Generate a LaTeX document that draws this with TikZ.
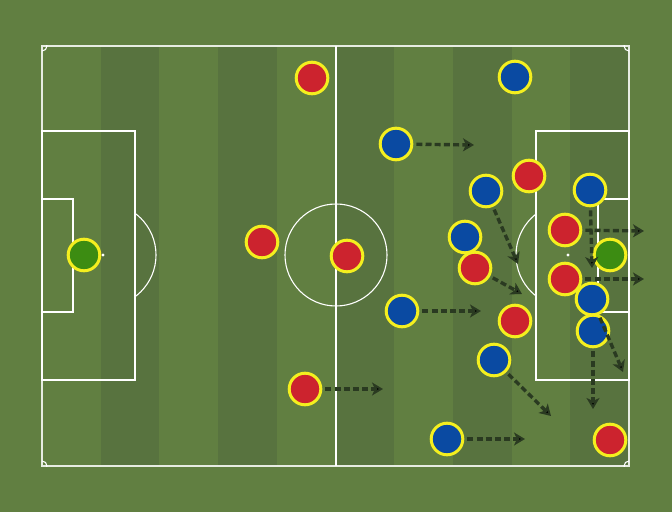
\documentclass[tikz,border=0pt]{standalone}
\usepackage{tikz}
\usetikzlibrary{positioning,arrows.meta}

\definecolor{grass}{HTML}{617F41}
\definecolor{darkgrass}{HTML}{58733F}
\definecolor{shirtred}{HTML}{CC232E}
\definecolor{shirtblue}{HTML}{0A4AA2}
\definecolor{shirtgreen}{HTML}{3C8C12}
\definecolor{trim}{HTML}{F4EF1F}
\definecolor{runline}{HTML}{2A3A21}

\begin{document}
\begin{tikzpicture}[x=0.5pt,y=-0.5pt,
  chalk/.style={draw=white,line width=0.55pt},
  player/.style={circle,draw=trim,line width=1.5pt,minimum size=15.8pt,inner sep=0pt},
  red node/.style={player,fill=shirtred},
  blue node/.style={player,fill=shirtblue},
  keeper node/.style={player,fill=shirtgreen},
  run/.style={draw=runline,line width=1.7pt,dash pattern=on 3pt off 1.6pt,
    shorten <=1.5pt,-{Stealth[length=5.5pt,width=6.5pt,inset=1.5pt]}}]

  % grass and stripes
  \fill[grass] (0,0) rectangle (672,512);
  \foreach \i in {1,3,5,7,9}
    \fill[darkgrass] ({42+\i*58.7},46) rectangle ({42+(\i+1)*58.7},466);

  % pitch markings
  \draw[chalk,draw=white!85!grass,line width=0.75pt] (42,46) rectangle (629,466);
  \draw[chalk] (336,46) -- (336,466);
  \draw[chalk] (336,255) circle[radius=25.5pt];
  \draw[chalk] (42,131) rectangle (135,380);
  \draw[chalk] (42,199) rectangle (73,312);
  \draw[chalk] (536,131) rectangle (629,380);
  \draw[chalk] (598,199) rectangle (629,312);
  \begin{scope}
    \clip (135,46) rectangle (536,466);
    \draw[chalk] (104,255) circle[radius=26pt];
    \draw[chalk] (568,255) circle[radius=26pt];
  \end{scope}
  \begin{scope}
    \clip (42,46) rectangle (629,466);
    \foreach \cx/\cy in {42/46,629/46,42/466,629/466}
      \draw[chalk] (\cx,\cy) circle[radius=2.5pt];
  \end{scope}
  \fill[white] (103,255) circle[radius=0.8pt];
  \fill[white] (568,255) circle[radius=0.8pt];

  % players
  \node[keeper node] (g1) at (84,255) {};
  \node[keeper node] (g2) at (610,255) {};

  \node[red node] (r1) at (312,78) {};
  \node[red node] (r2) at (262,242) {};
  \node[red node] (r3) at (347,256) {};
  \node[red node] (r4) at (305,389) {};
  \node[red node] (r5) at (529,176) {};
  \node[red node] (r6) at (565,230) {};
  \node[red node] (r7) at (475,268) {};
  \node[red node] (r8) at (565,279) {};
  \node[red node] (r9) at (515,321) {};
  \node[red node] (r10) at (610,440) {};

  \node[blue node] (b1) at (515,77) {};
  \node[blue node] (b2) at (396,144) {};
  \node[blue node] (b3) at (486,191) {};
  \node[blue node] (b4) at (590,190) {};
  \node[blue node] (b5) at (465,237) {};
  \node[blue node] (b6) at (402,311) {};
  \node[blue node] (b7) at (592,299) {};
  \node[blue node] (b8) at (593,331) {};
  \node[blue node] (b9) at (494,360) {};
  \node[blue node] (b10) at (447,439) {};

  % runs
  \coordinate (t2) at (474,145);
  \coordinate (t3) at (518,264);
  \coordinate (t7) at (522,294);
  \coordinate (t6) at (644,231);
  \coordinate (t4) at (592,268);
  \coordinate (t8) at (644,279);
  \coordinate (t6b) at (481,311);
  \coordinate (t4b) at (383,389);
  \coordinate (t8b) at (593,409);
  \coordinate (t7b) at (623,372);
  \coordinate (t9) at (551,416);
  \coordinate (t10) at (525,439);

  \path[run]
    (b2) edge (t2)
    (b3) edge (t3)
    (r7) edge (t7)
    (r6) edge (t6)
    (b4) edge (t4)
    (r8) edge (t8)
    (b6) edge (t6b)
    (r4) edge (t4b)
    (b8) edge (t8b)
    (b7) edge (t7b)
    (b9) edge (t9)
    (b10) edge (t10);
\end{tikzpicture}
\end{document}
